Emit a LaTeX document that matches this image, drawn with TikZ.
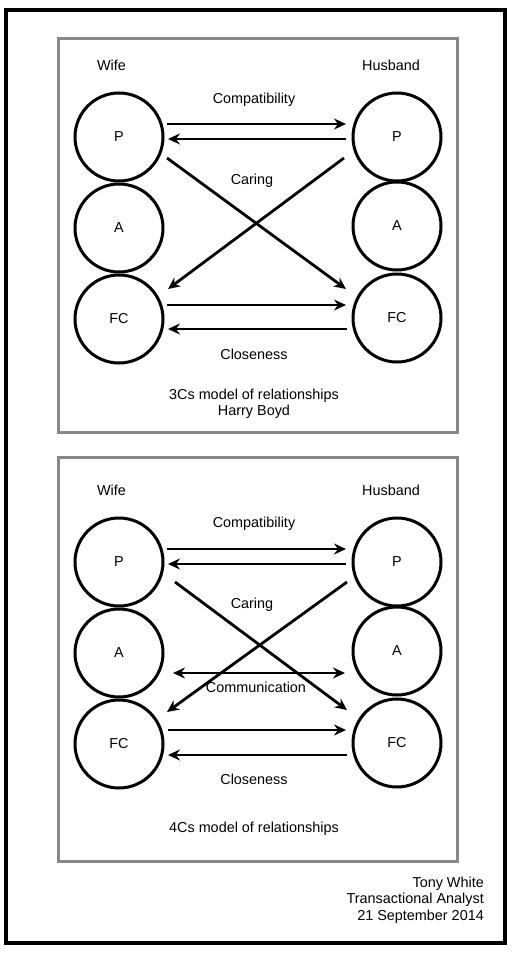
\documentclass[tikz,border=0pt]{standalone}
\usepackage{fontspec}
\setmainfont{Liberation Sans}
\usetikzlibrary{arrows.meta}
\definecolor{boxgray}{HTML}{888888}
\tikzset{
  ego/.style={circle, draw=black, line width=3pt, minimum size=88pt, inner sep=0pt, font=\fontsize{14.4}{16.5}\selectfont},
  lbl/.style={inner sep=0pt, font=\fontsize{14.4}{16.5}\selectfont},
  arr/.style={line width=2.8pt, -{Stealth[length=12pt,width=11pt,inset=4pt]}},
  darr/.style={line width=2.8pt, {Stealth[length=12pt,width=11pt,inset=4pt]}-{Stealth[length=12pt,width=11pt,inset=4pt]}},
  frame/.style={draw=boxgray, line width=3pt},
}
\begin{document}
\begin{tikzpicture}[x=1pt,y=-1pt]
\useasboundingbox (0,0) rectangle (515,955);
% outer border
\draw[line width=3.8pt, black] (6,10) rectangle (505,943);
% ===== box 1 =====
\draw[frame] (58,39) rectangle (457,432);
\node[lbl] (wife1) at (111.5,65) {Wife};
\node[lbl] (hus1) at (391,65) {Husband};
\node[ego] (wP1) at (119,137) {P};
\node[ego] (wA1) at (119,228) {A};
\node[ego] (wFC1) at (119,319) {FC};
\node[ego] (hP1) at (397,137) {P};
\node[ego] (hA1) at (397,226) {A};
\node[ego] (hFC1) at (397,318) {FC};
\node[lbl] (comp1) at (254,100) {Compatibility};
\node[lbl] (car1) at (252,181) {Caring};
\node[lbl] (clo1) at (254,354) {Closeness};
\node[lbl, align=center] (cap1) at (254,404) {3Cs model of relationships\\Harry Boyd};
\draw[arr] ([shift={(48,-13)}]wP1.center) -- ([shift={(-51,-13)}]hP1.center);
\draw[arr] ([shift={(-51,2)}]hP1.center) -- ([shift={(49,2)}]wP1.center);
\draw[arr] ([shift={(48,21)}]wP1.center) -- ([shift={(-51,-29)}]hFC1.center);
\draw[arr] ([shift={(-53,21)}]hP1.center) -- ([shift={(49,-30)}]wFC1.center);
\draw[arr] ([shift={(48,-14)}]wFC1.center) -- ([shift={(-51,-13)}]hFC1.center);
\draw[arr] ([shift={(-50,11)}]hFC1.center) -- ([shift={(49,10)}]wFC1.center);
% ===== box 2 =====
\draw[frame] (58,457) rectangle (457,861);
\node[lbl] (wife2) at (111.5,490) {Wife};
\node[lbl] (hus2) at (391,490) {Husband};
\node[ego] (wP2) at (119,562) {P};
\node[ego] (wA2) at (119,653) {A};
\node[ego] (wFC2) at (119,744) {FC};
\node[ego] (hP2) at (397,562) {P};
\node[ego] (hA2) at (397,651) {A};
\node[ego] (hFC2) at (397,743) {FC};
\node[lbl] (comp2) at (254,524) {Compatibility};
\node[lbl] (car2) at (252,605) {Caring};
\node[lbl] (comm2) at (256,687) {Communication};
\node[lbl] (clo2) at (254,779) {Closeness};
\node[lbl] (cap2) at (254,829) {4Cs model of relationships};
\draw[arr] ([shift={(48,-13)}]wP2.center) -- ([shift={(-51,-13)}]hP2.center);
\draw[arr] ([shift={(-51,2)}]hP2.center) -- ([shift={(49,2)}]wP2.center);
\draw[arr] ([shift={(56,20)}]wP2.center) -- ([shift={(-50,-33)}]hFC2.center);
\draw[arr] ([shift={(-50,20)}]hP2.center) -- ([shift={(48,-32)}]wFC2.center);
\draw[darr] ([shift={(54,20)}]wA2.center) -- ([shift={(-52,22)}]hA2.center);
\draw[arr] ([shift={(49,-14)}]wFC2.center) -- ([shift={(-51,-13)}]hFC2.center);
\draw[arr] ([shift={(-50,12)}]hFC2.center) -- ([shift={(49,11)}]wFC2.center);
% signature
\node[lbl, align=right, anchor=east] (sig) at (484,900) {Tony White\\Transactional Analyst\\21 September 2014};
\end{tikzpicture}
\end{document}
